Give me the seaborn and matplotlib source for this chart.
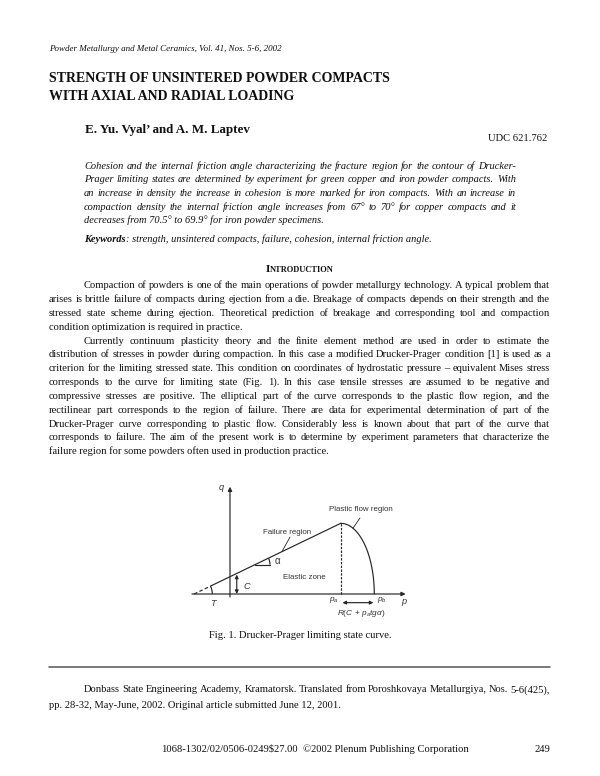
import numpy as np
import pandas as pd
import matplotlib
matplotlib.use("Agg")
import matplotlib.pyplot as plt
import seaborn as sns
from matplotlib.patches import Arc

# ---------------- data (schematic parameters of the Drucker-Prager curve) ----------------
cohesion_C = 1.0          # intercept of the failure line on the q axis
tan_alpha = 0.482         # slope of the failure line
p_a = 6.4                 # pressure at the apex (start of the cap)
p_b = 8.34                # end of the elliptical cap on the p axis
q_axis_top = 6.2
p_axis_end = 10.0
p_axis_start = -2.2

header_text = ["Powder Metallurgy and Metal Ceramics, Vol. 41, Nos. 5-6, 2002"]
title_lines = ["STRENGTH OF UNSINTERED POWDER COMPACTS", "WITH AXIAL AND RADIAL LOADING"]
authors_text = ["E. Yu. Vyal\u2019 and A. M. Laptev"]
udc_text = ["UDC 621.762"]
abstract_lines = [
    "Cohesion and the internal friction angle characterizing the fracture region for the contour of Drucker-",
    "Prager limiting states are determined by experiment for green copper and iron powder compacts. With",
    "an increase in density the increase in cohesion is more marked for iron compacts. With an increase in",
    "compaction density the internal friction angle increases from 67\u00b0 to 70\u00b0 for copper compacts and it",
    "decreases from 70.5\u00b0 to 69.9\u00b0 for iron powder specimens.",
]
keywords_parts = ["Keywords", ": strength, unsintered compacts, failure, cohesion, internal friction angle."]
body_lines = [
    "Compaction of powders is one of the main operations of powder metallurgy technology. A typical problem that",
    "arises is brittle failure of compacts during ejection from a die. Breakage of compacts depends on their strength and the",
    "stressed state scheme during ejection. Theoretical prediction of breakage and corresponding tool and compaction",
    "condition optimization is required in practice.",
    "Currently continuum plasticity theory and the finite element method are used in order to estimate the",
    "distribution of stresses in powder during compaction. In this case a modified Drucker-Prager condition [1] is used as a",
    "criterion for the limiting stressed state. This condition on coordinates of hydrostatic pressure \u2013 equivalent Mises stress",
    "corresponds to the curve for limiting state (Fig. 1). In this case tensile stresses are assumed to be negative and",
    "compressive stresses are positive. The elliptical part of the curve corresponds to the plastic flow region, and the",
    "rectilinear part corresponds to the region of failure. There are data for experimental determination of part of the",
    "Drucker-Prager curve corresponding to plastic flow. Considerably less is known about that part of the curve that",
    "corresponds to failure. The aim of the present work is to determine by experiment parameters that characterize the",
    "failure region for some powders often used in production practice.",
]
body_indent = [True, False, False, False, True, False, False, False, False, False, False, False, False]
body_last = [False, False, False, True, False, False, False, False, False, False, False, False, True]
caption_text = ["Fig. 1. Drucker-Prager limiting state curve."]
footnote_lines = [
    "Donbass State Engineering Academy, Kramatorsk. Translated from Poroshkovaya Metallurgiya, Nos. 5-6(425),",
    "pp. 28-32, May-June, 2002. Original article submitted June 12, 2001.",
]
bottom_text = ["1068-1302/02/0506-0249$27.00", "\u00a92002 Plenum Publishing Corporation", "249"]
diagram_labels = ["Failure region", "Plastic flow region", "Elastic zone"]

# ---------------- setup ----------------
sns.set_theme(style="white")
plt.rcParams['font.family'] = ['Liberation Serif', 'DejaVu Serif']
plt.rcParams['mathtext.fontset'] = 'custom'
plt.rcParams['mathtext.it'] = 'Liberation Sans:italic'
plt.rcParams['mathtext.rm'] = 'Liberation Sans'
plt.rcParams['mathtext.sf'] = 'Liberation Sans'

W, H = 600, 776
fig = plt.figure(figsize=(6, 7.76), dpi=100)
fig.patch.set_facecolor('white')
renderer = fig.canvas.get_renderer()
TXT = '#101010'


def fxy(x, y):
    return x / W, 1 - y / H


def twidth(s, **kw):
    t = fig.text(0, 0, s, parse_math=False, **kw)
    w = t.get_window_extent(renderer).width
    t.remove()
    return w


def fit_size(s, target, **kw):
    return 10.0 * target / twidth(s, fontsize=10, **kw)


def put(s, x, y, ha='left', **kw):
    kw.setdefault('color', TXT)
    return fig.text(*fxy(x, y), s, ha=ha, va='baseline', parse_math=False, **kw)


def justified(s, x0, x1, y, justify=True, **kw):
    words = s.split(' ')
    if not justify or len(words) == 1:
        put(s, x0, y, **kw)
        return
    widths = [twidth(w, **kw) for w in words]
    gap = (x1 - x0 - sum(widths)) / (len(words) - 1)
    x = x0
    for w, wd in zip(words, widths):
        put(w, x, y, **kw)
        x += wd + gap


L, R, IND = 49, 550, 84

# header
hs = fit_size(header_text[0], 232, style='italic')
put(header_text[0], L, 51, fontsize=hs, style='italic')

# title
ts = fit_size(title_lines[0], 341, weight='bold')
put(title_lines[0], L, 82, fontsize=ts, weight='bold')
put(title_lines[1], L, 99.5, fontsize=ts, weight='bold')

# authors / UDC
as_ = fit_size(authors_text[0], 166, weight='bold')
put(authors_text[0], 85, 132.5, fontsize=as_, weight='bold')

# body size: smallest size that lets all justified lines fit
bs = min(fit_size(l, (R - (IND if ind else L)) * 0.995)
         for l, ind, last in zip(body_lines, body_indent, body_last) if not last)
put(udc_text[0], 547, 141, ha='right', fontsize=bs)

# abstract
abs_s = min(fit_size(l, 432 * 0.995, style='italic') for l in abstract_lines[:-1])
for i, l in enumerate(abstract_lines):
    justified(l, IND, 516, 169 + 13.5 * i, justify=(i < len(abstract_lines) - 1),
              fontsize=abs_s, style='italic')
kw_w = twidth(keywords_parts[0], fontsize=abs_s, style='italic', weight='bold')
put(keywords_parts[0], IND, 242.5, fontsize=abs_s, style='italic', weight='bold')
put(keywords_parts[1], IND + kw_w, 242.5, fontsize=abs_s, style='italic')

# INTRODUCTION (small caps)
big, small = bs * 1.05, bs * 0.80
w1 = twidth("I", fontsize=big, weight='bold')
w2 = twidth("NTRODUCTION", fontsize=small, weight='bold')
x0 = 300 - (w1 + w2) / 2
put("I", x0, 271.5, fontsize=big, weight='bold')
put("NTRODUCTION", x0 + w1, 271.5, fontsize=small, weight='bold')

# body
for i, (l, ind, last) in enumerate(zip(body_lines, body_indent, body_last)):
    justified(l, IND if ind else L, R, 288.5 + 13.8 * i, justify=not last, fontsize=bs)

# ---------------- diagram ----------------
ax = fig.add_axes([180 / W, 1 - 620 / H, 240 / W, 140 / H])
LC = '#262626'
lw = 0.85

T = -cohesion_C / tan_alpha
q_peak = cohesion_C + tan_alpha * p_a
dash_end = T + 1.05

solid = pd.DataFrame({'p': [dash_end, p_a], 'q': [cohesion_C + tan_alpha * dash_end, q_peak]})
dashed = pd.DataFrame({'p': [T, dash_end], 'q': [0.0, cohesion_C + tan_alpha * dash_end]})
tt = np.linspace(0, np.pi / 2, 80)
cap = pd.DataFrame({'p': p_a + (p_b - p_a) * np.sin(tt), 'q': q_peak * np.cos(tt)})

sns.lineplot(data=solid, x='p', y='q', ax=ax, color=LC, lw=lw, sort=False)
sns.lineplot(data=dashed, x='p', y='q', ax=ax, color=LC, lw=lw, sort=False, linestyle=(0, (3, 2)))
sns.lineplot(data=cap, x='p', y='q', ax=ax, color=LC, lw=lw, sort=False)
ax.plot([p_a, p_a], [0, q_peak], color=LC, lw=lw, linestyle=(0, (2, 1.2)))
ax.set_xlabel('')
ax.set_ylabel('')
ax.set_xlim((180 - 230) / 17.3, (420 - 230) / 17.3)
ax.set_ylim((594 - 620) / 17.3, (594 - 480) / 17.3)
ax.axis('off')

ap = dict(arrowstyle='-|>', color=LC, lw=lw, mutation_scale=6, shrinkA=0, shrinkB=0)
ax.annotate('', xy=(p_axis_end + 0.15, 0), xytext=(p_axis_start, 0), arrowprops=ap)
ax.annotate('', xy=(0, q_axis_top), xytext=(0, -0.17), arrowprops=ap)

# C double arrow
ap2 = dict(arrowstyle='<|-|>', color=LC, lw=lw, mutation_scale=5, shrinkA=0, shrinkB=0)
ax.annotate('', xy=(0.39, cohesion_C + 0.12), xytext=(0.39, 0), arrowprops=ap2)
# R double arrow
ax.annotate('', xy=(p_b - 0.05, -0.50), xytext=(p_a + 0.1, -0.50), arrowprops=ap2)

# angle marks
ang = np.degrees(np.arctan(tan_alpha))
ax.add_patch(Arc((T, 0), 2.1, 2.1, theta1=0, theta2=ang, color=LC, lw=lw))
xa = 1.45
ya = cohesion_C + tan_alpha * xa
ax.plot([xa, xa + 0.86], [ya, ya], color=LC, lw=lw)
ax.add_patch(Arc((xa, ya), 1.72, 1.72, theta1=0, theta2=ang, color=LC, lw=lw))

# leaders
ax.plot([3.47, 3.0], [3.29, cohesion_C + tan_alpha * 3.0], color=LC, lw=0.6)
xl = 7.11
ax.plot([7.51, xl], [4.39, q_peak * np.sqrt(1 - ((xl - p_a) / (p_b - p_a)) ** 2)], color=LC, lw=0.6)

ds = fit_size(diagram_labels[1], 64, family='Liberation Sans')
DC = '#333333'
sk = dict(fontsize=ds, family='Liberation Sans', color=DC, ha='center', va='center')
ax.text(3.29, 3.53, diagram_labels[0], **sk)
ax.text(7.57, 4.91, diagram_labels[1], **sk)
ax.text(4.28, 0.98, diagram_labels[2], **sk)
ax.text(0.95, 0.42, 'C', style='italic', **{**sk, 'fontsize': ds * 1.15})
ax.text(-0.98, -0.55, 'T', style='italic', **{**sk, 'fontsize': ds * 1.15})
ax.text(-0.52, 6.18, 'q', style='italic', **{**sk, 'fontsize': ds * 1.15})
ax.text(10.05, -0.42, 'p', style='italic', **{**sk, 'fontsize': ds * 1.15})
ax.text(2.72, 1.88, '\u03b1', **{**sk, 'fontsize': ds * 1.25})
ax.text(6.02, -0.42, r'$p_a$', **{**sk, 'fontsize': ds * 1.05, 'va': 'baseline'})
ax.text(8.78, -0.42, r'$p_b$', **{**sk, 'fontsize': ds * 1.05, 'va': 'baseline'})
ax.text(7.6, -1.12, r'$R(C\,+\,p_a tg\alpha)$', **{**sk, 'fontsize': ds * 1.05})

# caption
put(caption_text[0], 300, 637.5, ha='center', fontsize=bs)

# footnote rule and text
fig.add_artist(plt.Line2D([L / W, R / W], [1 - 667 / H, 1 - 667 / H], color='#555555', lw=1.1))
justified(footnote_lines[0], IND, R, 692.5, fontsize=bs)
put(footnote_lines[1], L, 707.5, fontsize=bs)

# bottom line
put(bottom_text[0], 161, 751.5, fontsize=bs)
w0 = twidth(bottom_text[0], fontsize=bs)
put(bottom_text[1], 161 + w0 + 5, 751.5, fontsize=bs)
put(bottom_text[2], 550, 751.5, ha='right', fontsize=bs)

fig.savefig('out.png', dpi=100, facecolor='white')
